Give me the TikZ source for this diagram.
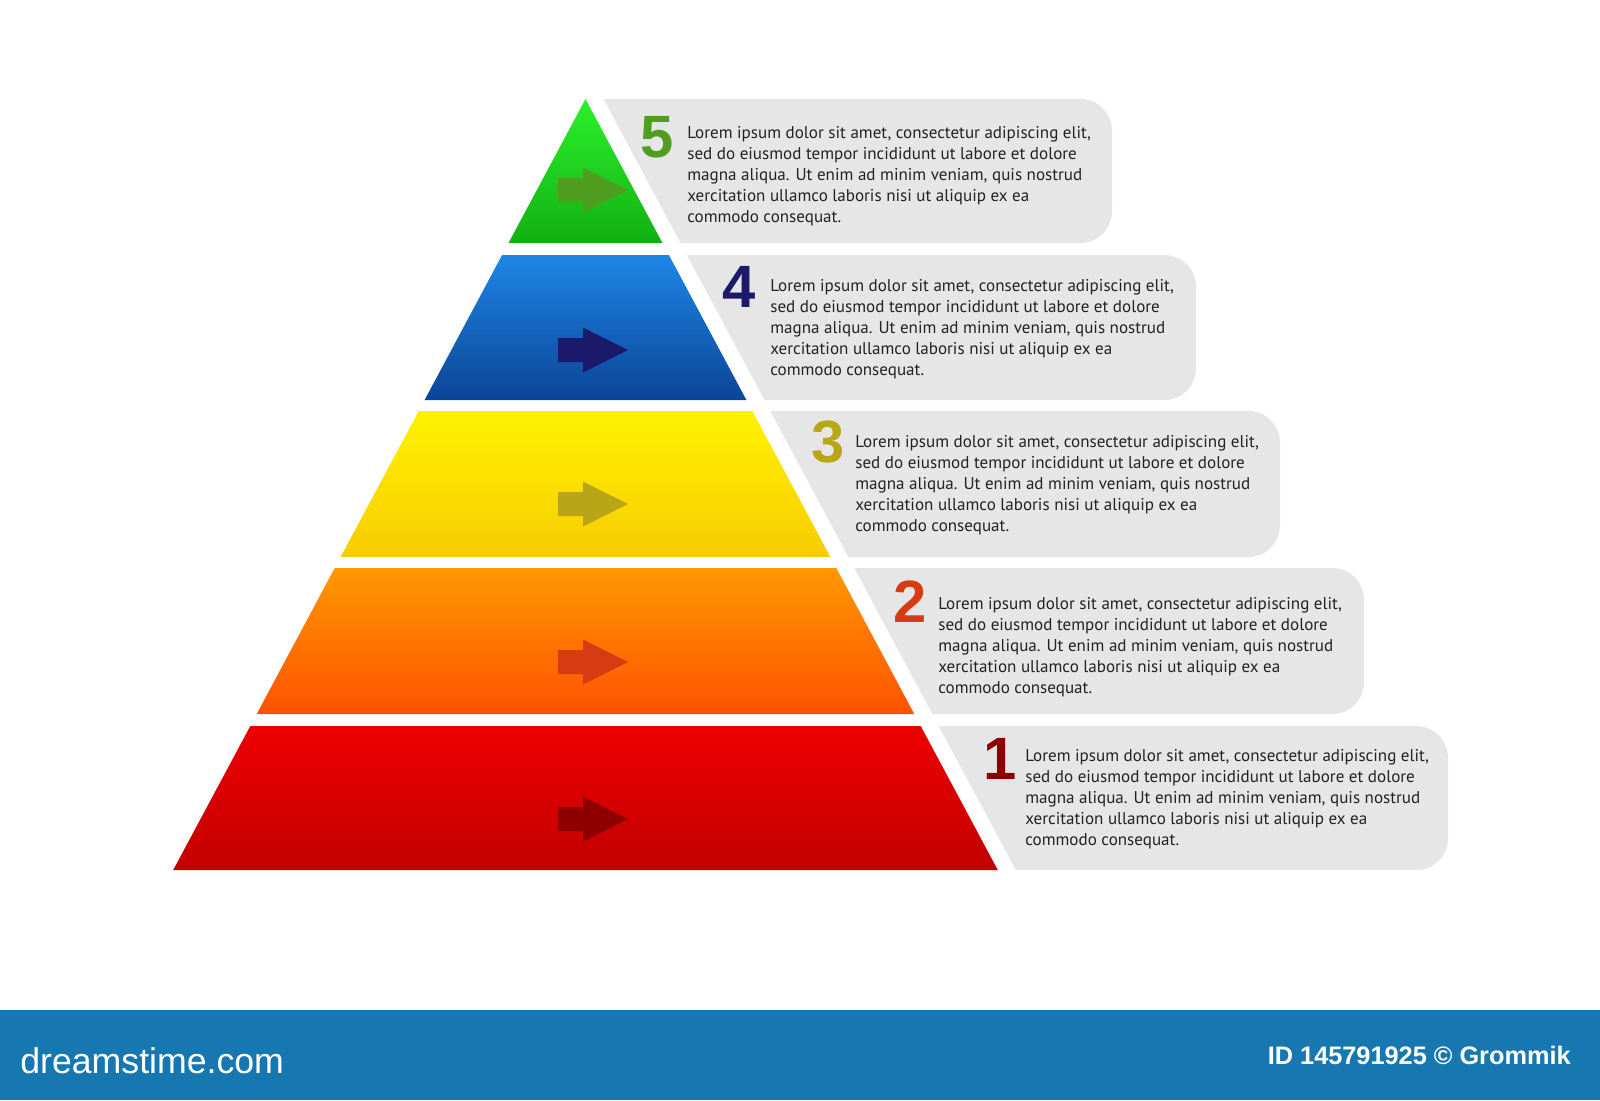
\documentclass[tikz,border=0pt]{standalone}
\usepackage{fontspec}
\setmainfont{PT Sans}
\newfontfamily\numfont{Liberation Sans}

\definecolor{g5top}{HTML}{2BF02B}
\definecolor{g5bot}{HTML}{12B012}
\definecolor{b4top}{HTML}{1F86E6}
\definecolor{b4bot}{HTML}{0A4597}
\definecolor{y3top}{HTML}{FFF200}
\definecolor{y3bot}{HTML}{F7CC00}
\definecolor{o2top}{HTML}{FF9800}
\definecolor{o2bot}{HTML}{FF5200}
\definecolor{r1top}{HTML}{EE0000}
\definecolor{r1bot}{HTML}{C20000}
\definecolor{a5}{HTML}{4F9E1F}
\definecolor{a4}{HTML}{1C1A6B}
\definecolor{a3}{HTML}{B9A617}
\definecolor{a2}{HTML}{D63C12}
\definecolor{a1}{HTML}{8E0000}
\definecolor{boxgray}{HTML}{E6E6E6}
\definecolor{loremgray}{HTML}{222222}
\definecolor{bannerblue}{HTML}{1777B0}

\newcommand{\loremtxt}{Lorem ipsum dolor sit amet, consectetur adipiscing elit,\\
sed do eiusmod tempor incididunt ut labore et dolore\\
magna aliqua. Ut enim ad minim veniam, quis nostrud\\
xercitation ullamco laboris nisi ut aliquip ex ea\\
commodo consequat.}

\begin{document}
\begin{tikzpicture}[x=0.02cm, y=-0.02cm,
    lorem/.style={anchor=north west, inner sep=0pt, align=left, text=loremgray,
      font=\fontsize{9.7}{12.0}\selectfont},
    num/.style={inner sep=0pt, font=\numfont\bfseries\fontsize{34}{34}\selectfont}]
  \useasboundingbox (0,0) rectangle (1600,1100);

  % pyramid tiers
  \shade[top color=g5top, bottom color=g5bot] (585.5,99) -- (662.5,243) -- (508.5,243) -- cycle;
  \shade[top color=b4top, bottom color=b4bot] (502.1,255) -- (668.9,255) -- (746.4,400) -- (424.6,400) -- cycle;
  \shade[top color=y3top, bottom color=y3bot] (418.7,411) -- (752.3,411) -- (830.4,557) -- (340.6,557) -- cycle;
  \shade[top color=o2top, bottom color=o2bot] (334.7,568) -- (836.3,568) -- (914.3,714) -- (256.7,714) -- cycle;
  \shade[top color=r1top, bottom color=r1bot] (250.3,726) -- (920.7,726) -- (997.8,870) -- (173.2,870) -- cycle;

  % arrows
  \fill[a5] (558,190) ++(0,-12) -- ++(25,0) -- ++(0,-10.5) -- ++(45,22.5) -- ++(-45,22.5) -- ++(0,-10.5) -- ++(-25,0) -- cycle;
  \fill[a4] (558,350) ++(0,-12) -- ++(25,0) -- ++(0,-10.5) -- ++(45,22.5) -- ++(-45,22.5) -- ++(0,-10.5) -- ++(-25,0) -- cycle;
  \fill[a3] (558,504) ++(0,-12) -- ++(25,0) -- ++(0,-10.5) -- ++(45,22.5) -- ++(-45,22.5) -- ++(0,-10.5) -- ++(-25,0) -- cycle;
  \fill[a2] (558,662) ++(0,-12) -- ++(25,0) -- ++(0,-10.5) -- ++(45,22.5) -- ++(-45,22.5) -- ++(0,-10.5) -- ++(-25,0) -- cycle;
  \fill[a1] (558,819) ++(0,-12) -- ++(25,0) -- ++(0,-10.5) -- ++(45,22.5) -- ++(-45,22.5) -- ++(0,-10.5) -- ++(-25,0) -- cycle;

  % text boxes, rounded on the right only
  \fill[boxgray] (603.5,99) [rounded corners=18] -- (1112,99) -- (1112,243) [sharp corners] -- (680.5,243) -- cycle;
  \fill[boxgray] (686.9,255) [rounded corners=18] -- (1196,255) -- (1196,400) [sharp corners] -- (764.4,400) -- cycle;
  \fill[boxgray] (770.3,411) [rounded corners=18] -- (1280,411) -- (1280,557) [sharp corners] -- (848.4,557) -- cycle;
  \fill[boxgray] (854.3,568) [rounded corners=18] -- (1364,568) -- (1364,714) [sharp corners] -- (932.3,714) -- cycle;
  \fill[boxgray] (938.7,726) [rounded corners=18] -- (1448,726) -- (1448,870) [sharp corners] -- (1015.8,870) -- cycle;

  \node[num, text=a5] (n5) at (657,137) {5};
  \node[num, text=a4] (n4) at (739,286.5) {4};
  \node[num, text=a3] (n3) at (828,441.5) {3};
  \node[num, text=a2] (n2) at (910,601.5) {2};
  \node[num, text=a1] (n1) at (1000,759) {1};

  \node[lorem] (txt5) at (687,126) {\loremtxt};
  \node[lorem] (txt4) at (770,279) {\loremtxt};
  \node[lorem] (txt3) at (855,435) {\loremtxt};
  \node[lorem] (txt2) at (938,597) {\loremtxt};
  \node[lorem] (txt1) at (1025,749) {\loremtxt};

  % banner
  \fill[bannerblue] (0,1010) rectangle (1600,1100);
  \node[anchor=base west, inner sep=0pt, text=white, font=\numfont\fontsize{20.3}{22}\selectfont] (logo) at (20,1073) {dreamstime.com};
  \node[anchor=base east, inner sep=0pt, text=white, font=\numfont\bfseries\fontsize{14.4}{16}\selectfont] (imgid) at (1571,1064) {ID 145791925 \textcopyright{} Grommik};
\end{tikzpicture}
\end{document}
